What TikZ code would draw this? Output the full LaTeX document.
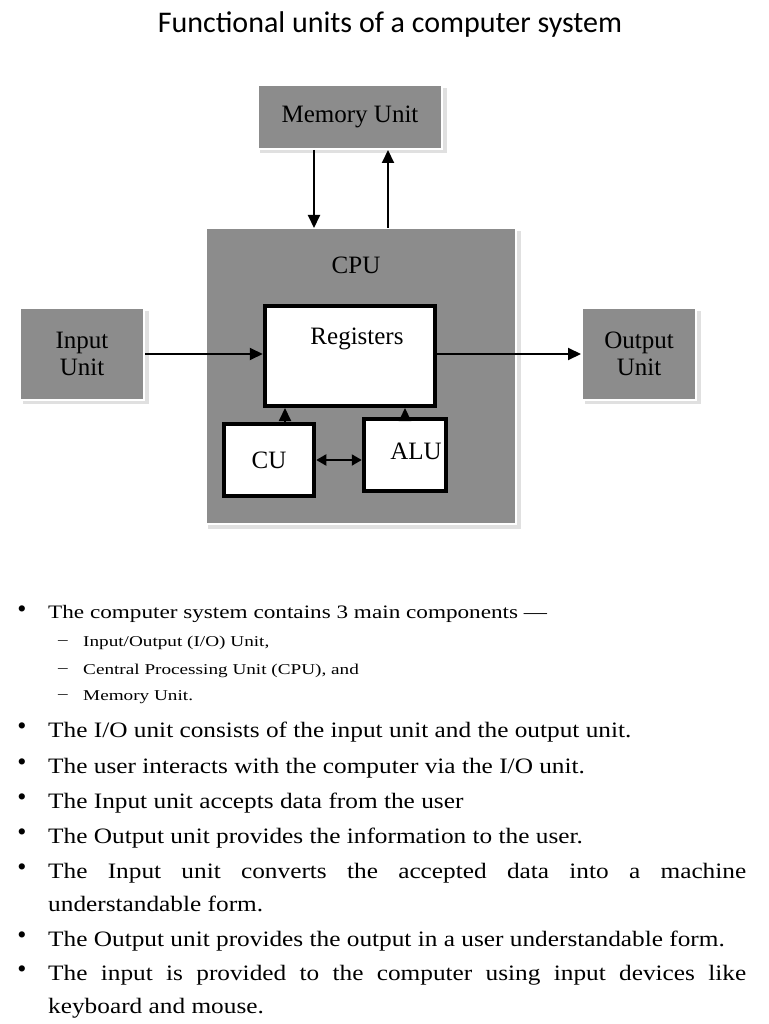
\documentclass[tikz,border=0pt]{standalone}
\usepackage{fontspec}
\setmainfont{Liberation Serif}
\newfontfamily\titlefont{Carlito}
\newfontfamily\wideA[FakeStretch=1.15]{Liberation Serif}
\newfontfamily\wideB[FakeStretch=1.22]{Liberation Serif}
\newfontfamily\wideC[FakeStretch=1.28]{Liberation Serif}
\usetikzlibrary{arrows.meta}
\begin{document}
\begin{tikzpicture}[x=1pt,y=-1pt,
  gbox/.style={draw=white,line width=2pt,fill=black!45,inner sep=0pt,font=\fontsize{25}{27}\selectfont,align=center},
  wbox/.style={draw=black,line width=4.5pt,fill=white,inner sep=0pt,font=\fontsize{25}{27}\selectfont},
  arr/.style={line width=2pt,-{Triangle[length=13pt,width=12pt]}},
  darr/.style={line width=2pt,{Triangle[length=10pt,width=11pt]}-{Triangle[length=10pt,width=11pt]}},
  bul/.style={anchor=north west,inner sep=0pt,text width=698pt,align=justify,font=\wideA\fontsize{22}{33}\selectfont,
    execute at begin node={\hyphenpenalty=10000\relax}},
  sub/.style={anchor=west,inner sep=0pt,font=\wideC\fontsize{15}{17}\selectfont}]
\useasboundingbox (0,0) rectangle (768,1024);
\fill[white] (0,0) rectangle (768,1024);
\node[font=\titlefont\fontsize{30}{32}\selectfont] (title) at (390,25) {Functional units of a computer system};
% shadows
\fill[black!12] (260,88) rectangle (447,153);
\fill[black!12] (208,231) rectangle (521,529);
\fill[black!12] (23,311) rectangle (149,404);
\fill[black!12] (585,311) rectangle (701,404);
\node[gbox,minimum width=184pt,minimum height=64pt] (mem) at (350,117) {Memory Unit};
\node[gbox,minimum width=310pt,minimum height=296pt] (cpu) at (361,376) {};
\node[font=\fontsize{25}{27}\selectfont] (cpul) at (356,265) {CPU};
\node[gbox,minimum width=124pt,minimum height=92pt] (in) at (82,354) {Input\\Unit};
\node[gbox,minimum width=114pt,minimum height=92pt] (out) at (639,354) {Output\\Unit};
\node[wbox,minimum width=170pt,minimum height=100pt] (reg) at (350,356) {};
\node[font=\fontsize{25}{27}\selectfont] (regl) at (357,339) {Registers};
\node[wbox,minimum width=90pt,minimum height=72pt] (cu) at (269,460) {CU};
\node[wbox,minimum width=82pt,minimum height=72pt] (alu) at (405,455) {};
\node[font=\fontsize{25}{27}\selectfont] (alul) at (416,451) {ALU};
\coordinate (m1) at (314,150); \coordinate (c1) at (314,228);
\coordinate (m2) at (388,150); \coordinate (c2) at (388,228);
\draw[arr] (m1) -- (c1);
\draw[arr] (c2) -- (m2);
\draw[arr] (in.east) -- (reg.west |- in.east);
\draw[arr] (reg.east |- out.west) -- (out.west);
\draw[arr] (cu.north -| 285,0) -- (285,408);
\draw[arr] (alu.north -| 405,0) -- (405,408);
\draw[darr] (cu.east |- 0,460) -- (alu.west |- 0,460);
% text
\node[font=\fontsize{26}{26}\selectfont] (b0) at (22,612) {\textbullet};
\node[anchor=west,inner sep=0pt,font=\wideB\fontsize{19}{22}\selectfont] (t0) at (48,614) {The computer system contains 3 main components \textemdash};
\node[sub] (d1) at (58,643) {\textendash};
\node[sub] (s1) at (83,643) {Input/Output (I/O) Unit,};
\node[sub] (d2) at (58,671) {\textendash};
\node[sub] (s2) at (83,671) {Central Processing Unit (CPU), and};
\node[sub] (d3) at (58,697) {\textendash};
\node[sub] (s3) at (83,697) {Memory Unit.};
\foreach \y/\t [count=\i] in {
 722/{The I/O unit consists of the input unit and the output unit.},
 758/{The user interacts with the computer via the I/O unit.},
 793/{The Input unit accepts data from the user},
 828/{The Output unit provides the information to the user.},
 863/{The Input unit converts the accepted data into a machine\linebreak understandable form.},
 931/{The Output unit provides the output in a user understandable form.},
 965/{The input is provided to the computer using input devices like\linebreak keyboard and mouse.}}
{
 \node[font=\fontsize{26}{26}\selectfont,anchor=north] (bb\i) at (22,\y-3) {\textbullet};
 \node[bul] (tt\i) at (48,\y) {\t};
}
\end{tikzpicture}
\end{document}
